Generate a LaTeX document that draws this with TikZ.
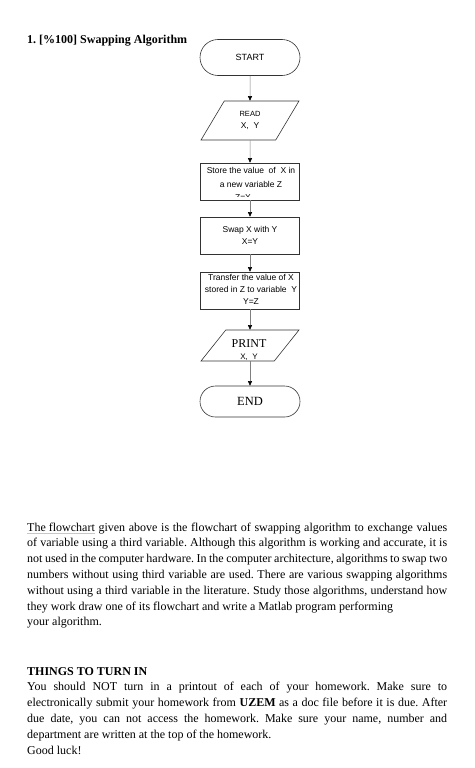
\documentclass[tikz,border=0pt]{standalone}
\usepackage{fontspec}
\setmainfont{Liberation Serif}
\setsansfont{Liberation Sans}
\usepackage{tikz}
\usetikzlibrary{shapes,arrows.meta}
\tikzstyle{terminal} = [rounded rectangle, draw=black!80, line width=0.6pt, minimum width=100pt, minimum height=36pt, inner sep=0pt]
\tikzstyle{iobox} = [trapezium, trapezium left angle=63, trapezium right angle=117, trapezium stretches, draw=black!80, line width=0.6pt, minimum width=98pt, inner sep=1pt]
\tikzstyle{procbox} = [rectangle, draw=black!80, line width=0.6pt, minimum width=99pt, minimum height=37pt, inner sep=0pt]
\tikzstyle{boxtext} = [font=\sffamily\fontsize{8.5pt}{11.75pt}\selectfont, align=center, inner sep=0pt]
\tikzstyle{arrow} = [draw=gray, line width=0.5pt, -{Triangle[color=black, width=4pt, length=4.5pt]}]
\tikzstyle{bodytext} = [font=\fontsize{12pt}{15.8pt}\selectfont, text width=420pt, align=justify, inner sep=0pt, anchor=base west]
\newcommand{\squig}[1]{\setbox0\hbox{#1}\rlap{\color{black!22}\rule[-2.5pt]{\wd0}{0.4pt}}\box0\relax}
\frenchspacing
\hbadness=10000
\begin{document}
\begin{tikzpicture}[x=1pt, y=-1pt]
    \useasboundingbox (0,0) rectangle (474,768);

    \node[font=\bfseries\fontsize{12pt}{14pt}\selectfont, anchor=base west, inner sep=0pt] (title) at (27,44) {1. [\%100] Swapping Algorithm};

    % flowchart
    \node[terminal, font=\sffamily\fontsize{9pt}{11pt}\selectfont] (start) at (250,57.5) {START};

    \node[iobox, minimum height=39pt, font=\sffamily\fontsize{8.5pt}{12pt}\selectfont, align=center] (read) at (250,120.5) {{\fontsize{7.5pt}{12pt}\selectfont READ}\\X,\ \ Y};
    \path[arrow] (start.south) -- (read.north);

    \node[procbox] (store) at (250,181.5) {};
    \begin{scope}
        \clip ([yshift=3.5pt]store.south west) rectangle (store.north east);
        \node[boxtext, font=\sffamily\fontsize{8.5pt}{13.5pt}\selectfont, anchor=north] (storetext) at (251,167.3) {Store the value\ \ of\ \ X in\\a new variable Z\hspace*{14pt}\\Z=X\hspace*{16pt}};
    \end{scope}
    \path[arrow] (read.south) -- (store.north);

    \node[procbox, boxtext] (swap) at (250,235.5) {Swap X with Y\\X=Y};
    \path[arrow] (store.south) -- (swap.north);

    \node[procbox] (transfer) at (250,290.5) {};
    \begin{scope}
        \clip ([yshift=3pt]transfer.south west) rectangle (transfer.north east);
        \node[boxtext, anchor=north] (transfertext) at (251,274.5) {Transfer the value of X\\stored in Z to variable\ \ Y\\Y=Z};
    \end{scope}
    \path[arrow] (swap.south) -- (transfer.north);

    \node[iobox, minimum height=31pt] (print) at (250,345.5) {};
    \node[font=\fontsize{12pt}{14pt}\selectfont, anchor=base, inner sep=0pt] (printword) at (249,347.5) {PRINT};
    \node[font=\sffamily\fontsize{8pt}{10pt}\selectfont, anchor=base, inner sep=0pt] (printxy) at (249,359) {X,\ \ Y};
    \path[arrow] (transfer.south) -- (print.north);

    \node[terminal, minimum height=31pt, font=\fontsize{12.5pt}{14pt}\selectfont] (end) at (250,401.5) {END};
    \path[arrow] (print.south) -- (end.north);

    % text below
    \node[bodytext] (para) at (27,531) {\squig{The flowchart} given above is the flowchart of swapping algorithm to exchange values\linebreak
    of variable using a third variable. Although this algorithm is working and accurate, it is\linebreak
    not used in the computer hardware. In the computer architecture, algorithms to swap two\linebreak
    numbers without using third variable are used. There are various swapping algorithms\linebreak
    without using a third variable in the literature. Study those algorithms, understand how\linebreak
    they work draw one of its flowchart and write a Matlab program performing\\
    your algorithm.};

    \node[bodytext] (things) at (27,675) {\textbf{THINGS TO TURN IN}\\
    You should NOT turn in a printout of each of your homework. Make sure to\linebreak
    electronically submit your homework from \textbf{UZEM} as a doc file before it is due. After\linebreak
    due date, you can not access the homework. Make sure your name, number and\linebreak
    department are written at the top of the homework.\\
    Good luck!};
\end{tikzpicture}
\end{document}
